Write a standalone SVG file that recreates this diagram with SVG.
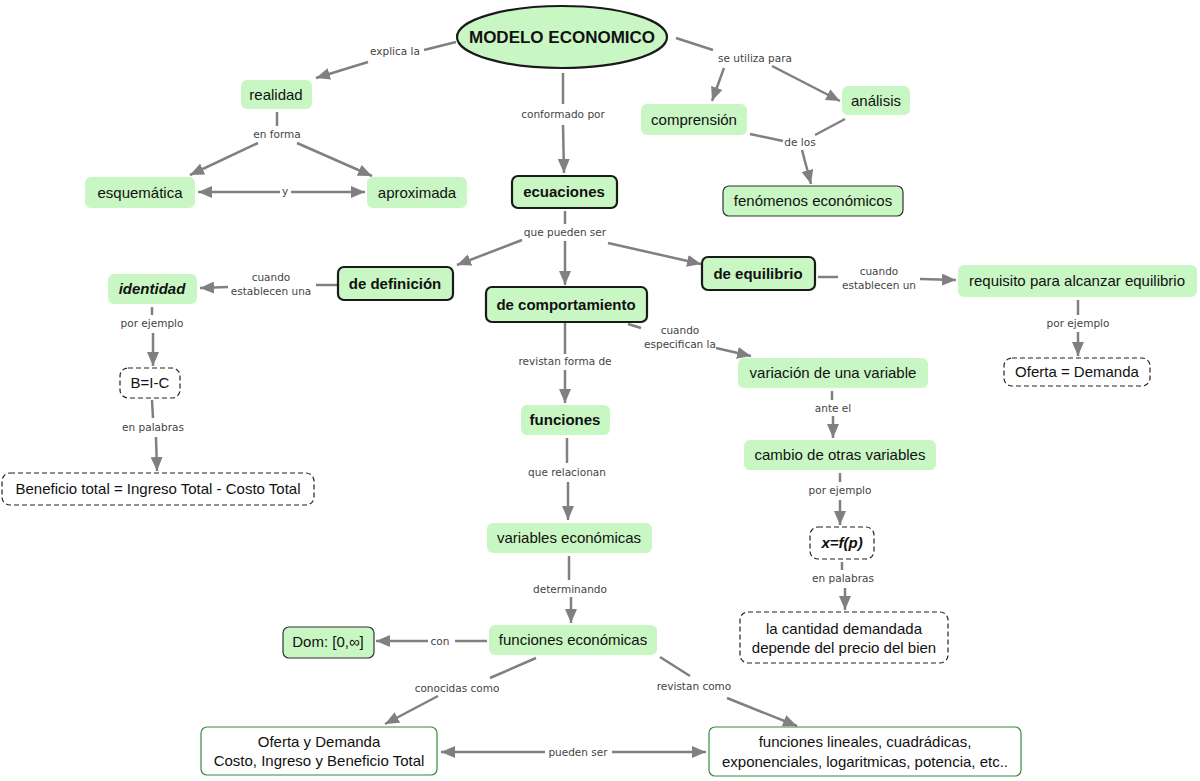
<svg xmlns="http://www.w3.org/2000/svg" width="1200" height="781" viewBox="0 0 1200 781">
<defs>
<marker id="a" viewBox="0 0 14 12" refX="14" refY="6" markerWidth="14" markerHeight="12" orient="auto-start-reverse" markerUnits="userSpaceOnUse"><path d="M0,0 L14,6 L0,12 z" fill="#808080"/></marker>
</defs>
<style>
.n{fill:#c9f7c4;stroke:none}
.b{fill:#c9f7c4;stroke:#1a1a1a;stroke-width:2.2}
.t{fill:#c9f7c4;stroke:#333;stroke-width:1.2}
.d{fill:#fff;stroke:#222;stroke-width:1.2;stroke-dasharray:5,3}
.g{fill:#fff;stroke:#3a8a3a;stroke-width:1.2}
text{font-family:"Liberation Sans",Arial,sans-serif;font-size:15px;fill:#111;text-anchor:middle}
text.bd{font-weight:bold}
text.l{font-family:"DejaVu Sans",Verdana,sans-serif;font-size:10.5px;fill:#444}
#conn path,#conn line{stroke:#808080;stroke-width:2.5;fill:none}
.ar{marker-end:url(#a)}
.dar{marker-end:url(#a);marker-start:url(#a)}
</style>
<rect width="1200" height="781" fill="#fff"/>
<g id="conn">
<line x1="456" y1="42" x2="424" y2="50"/>
<line x1="368" y1="62" x2="316" y2="78" class="ar"/>
<line x1="563" y1="73" x2="563" y2="104"/>
<line x1="563" y1="125" x2="564" y2="173" class="ar"/>
<line x1="676" y1="38" x2="713" y2="50"/>
<line x1="724" y1="68" x2="712" y2="101" class="ar"/>
<line x1="772" y1="66" x2="840" y2="101" class="ar"/>
<line x1="277" y1="112" x2="277" y2="126"/>
<line x1="258" y1="143" x2="190" y2="175" class="ar"/>
<line x1="297" y1="143" x2="372" y2="176" class="ar"/>
<line x1="198" y1="192" x2="280" y2="192" class="ar" style="marker-end:none;marker-start:url(#a)"/>
<line x1="291" y1="192" x2="365" y2="192" class="ar"/>
<line x1="750" y1="134" x2="783" y2="141"/>
<line x1="845" y1="119" x2="815" y2="135"/>
<line x1="802" y1="150" x2="811" y2="184" class="ar"/>
<line x1="565" y1="211" x2="565" y2="224"/>
<line x1="522" y1="240" x2="457" y2="265" class="ar"/>
<line x1="565" y1="241" x2="565" y2="285" class="ar"/>
<line x1="608" y1="243" x2="701" y2="264" class="ar"/>
<line x1="337" y1="285" x2="316" y2="285"/>
<line x1="228" y1="287" x2="200" y2="288" class="ar"/>
<line x1="152" y1="307" x2="152" y2="315"/>
<line x1="153" y1="333" x2="153" y2="366" class="ar"/>
<line x1="152" y1="400" x2="153" y2="418"/>
<line x1="156" y1="437" x2="157" y2="471" class="ar"/>
<line x1="818" y1="277" x2="838" y2="277"/>
<line x1="920" y1="279" x2="956" y2="280" class="ar"/>
<line x1="1078" y1="300" x2="1078" y2="315"/>
<line x1="1078" y1="332" x2="1078" y2="356" class="ar"/>
<line x1="628" y1="324" x2="641" y2="328"/>
<line x1="716" y1="348" x2="751" y2="356" class="ar"/>
<line x1="565" y1="323" x2="565" y2="354"/>
<line x1="565" y1="370" x2="565" y2="403" class="ar"/>
<line x1="832" y1="391" x2="832" y2="400"/>
<line x1="833" y1="416" x2="833" y2="438" class="ar"/>
<line x1="840" y1="473" x2="840" y2="482"/>
<line x1="840" y1="500" x2="840" y2="525" class="ar"/>
<line x1="842" y1="562" x2="842" y2="570"/>
<line x1="845" y1="588" x2="845" y2="610" class="ar"/>
<line x1="567" y1="438" x2="567" y2="463"/>
<line x1="568" y1="482" x2="568" y2="520" class="ar"/>
<line x1="569" y1="556" x2="569" y2="580"/>
<line x1="571" y1="597" x2="571" y2="623" class="ar"/>
<line x1="487" y1="641" x2="455" y2="641"/>
<line x1="428" y1="641" x2="376" y2="641" class="ar"/>
<line x1="536" y1="658" x2="490" y2="678"/>
<line x1="438" y1="696" x2="385" y2="724" class="ar"/>
<line x1="660" y1="657" x2="690" y2="676"/>
<line x1="727" y1="698" x2="797" y2="726" class="ar"/>
<line x1="441" y1="752" x2="545" y2="752" style="marker-start:url(#a)"/>
<line x1="612" y1="752" x2="706" y2="752" class="ar"/>
<text class="l" x="395" y="55">explica la</text>
<text class="l" x="563" y="118">conformado por</text>
<text class="l" x="755" y="62">se utiliza para</text>
<text class="l" x="277" y="138">en forma</text>
<text class="l" x="285" y="195">y</text>
<text class="l" x="800" y="146">de los</text>
<text class="l" x="565" y="236">que pueden ser</text>
<text class="l" x="271" y="281">cuando</text>
<text class="l" x="271" y="295">establecen una</text>
<text class="l" x="152" y="327">por ejemplo</text>
<text class="l" x="153" y="431">en palabras</text>
<text class="l" x="879" y="275">cuando</text>
<text class="l" x="879" y="289">establecen un</text>
<text class="l" x="1078" y="327">por ejemplo</text>
<text class="l" x="680" y="334">cuando</text>
<text class="l" x="680" y="348">especifican la</text>
<text class="l" x="565" y="365">revistan forma de</text>
<text class="l" x="833" y="412">ante el</text>
<text class="l" x="840" y="494">por ejemplo</text>
<text class="l" x="843" y="582">en palabras</text>
<text class="l" x="567" y="476">que relacionan</text>
<text class="l" x="570" y="593">determinando</text>
<text class="l" x="440" y="645">con</text>
<text class="l" x="457" y="692">conocidas como</text>
<text class="l" x="694" y="690">revistan como</text>
<text class="l" x="578" y="756">pueden ser</text>
</g>
<g id="n-modelo"><ellipse cx="562" cy="37" rx="105" ry="31" class="b"/><text class="bd" x="562" y="43" style="font-size:17px">MODELO ECONOMICO</text></g>
<g id="n-realidad"><rect x="241" y="80" width="71" height="29" rx="6" class="n"/><text x="276" y="100">realidad</text></g>
<g id="n-esquematica"><rect x="85" y="177" width="110" height="31" rx="6" class="n"/><text x="140" y="198">esquemática</text></g>
<g id="n-aproximada"><rect x="367" y="177" width="100" height="31" rx="6" class="n"/><text x="417" y="198">aproximada</text></g>
<g id="n-ecuaciones"><rect x="512" y="176" width="105" height="32" rx="6" class="b"/><text class="bd" x="564" y="197">ecuaciones</text></g>
<g id="n-comprension"><rect x="641" y="104" width="106" height="31" rx="6" class="n"/><text x="694" y="125">comprensión</text></g>
<g id="n-analisis"><rect x="842" y="86" width="68" height="29" rx="6" class="n"/><text x="876" y="106">análisis</text></g>
<g id="n-fenomenos"><rect x="723" y="186" width="180" height="30" rx="6" class="t"/><text x="813" y="206">fenómenos económicos</text></g>
<g id="n-identidad"><rect x="108" y="274" width="89" height="30" rx="6" class="n"/><text class="bd" x="152" y="294" style="font-style:italic">identidad</text></g>
<g id="n-definicion"><rect x="338" y="267" width="115" height="33" rx="6" class="b"/><text class="bd" x="395" y="289">de definición</text></g>
<g id="n-comportamiento"><rect x="486" y="287" width="161" height="35" rx="6" class="b"/><text class="bd" x="566" y="310">de comportamiento</text></g>
<g id="n-equilibrio"><rect x="702" y="257" width="113" height="33" rx="6" class="b"/><text class="bd" x="758" y="279">de equilibrio</text></g>
<g id="n-requisito"><rect x="958" y="265" width="239" height="32" rx="6" class="n"/><text x="1077" y="286">requisito para alcanzar equilibrio</text></g>
<g id="n-bic"><rect x="120" y="368" width="60" height="30" rx="8" class="d"/><text x="150" y="388">B=I-C</text></g>
<g id="n-beneficio"><rect x="2" y="473" width="312" height="32" rx="8" class="d"/><text x="158" y="494">Beneficio total = Ingreso Total - Costo Total</text></g>
<g id="n-ofertademanda"><rect x="1004" y="358" width="146" height="28" rx="8" class="d"/><text x="1077" y="377">Oferta = Demanda</text></g>
<g id="n-variacion"><rect x="738" y="358" width="190" height="30" rx="6" class="n"/><text x="833" y="378">variación de una variable</text></g>
<g id="n-cambio"><rect x="744" y="440" width="192" height="30" rx="6" class="n"/><text x="840" y="460">cambio de otras variables</text></g>
<g id="n-funciones"><rect x="521" y="405" width="89" height="30" rx="6" class="n"/><text class="bd" x="565" y="425">funciones</text></g>
<g id="n-variables"><rect x="487" y="523" width="165" height="30" rx="6" class="n"/><text x="569" y="543">variables económicas</text></g>
<g id="n-xfp"><rect x="810" y="527" width="64" height="32" rx="8" class="d"/><text class="bd" x="842" y="548" style="font-style:italic">x=f(p)</text></g>
<g id="n-funcecon"><rect x="489" y="625" width="168" height="30" rx="6" class="n"/><text x="573" y="645">funciones económicas</text></g>
<g id="n-dom"><rect x="283" y="627" width="91" height="31" rx="6" class="t"/><text x="328" y="647">Dom: [0,∞]</text></g>
<g id="n-cantidad"><rect x="740" y="612" width="208" height="51" rx="8" class="d"/><text x="844" y="634">la cantidad demandada</text><text x="844" y="653">depende del precio del bien</text></g>
<g id="n-ofertacosto"><rect x="201" y="727" width="236" height="48" rx="6" class="g"/><text x="319" y="747">Oferta y Demanda</text><text x="319" y="766">Costo, Ingreso y Beneficio Total</text></g>
<g id="n-lineales"><rect x="709" y="727" width="312" height="49" rx="6" class="g"/><text x="865" y="747">funciones lineales, cuadrádicas,</text><text x="865" y="767">exponenciales, logaritmicas, potencia, etc..</text></g>
</svg>
